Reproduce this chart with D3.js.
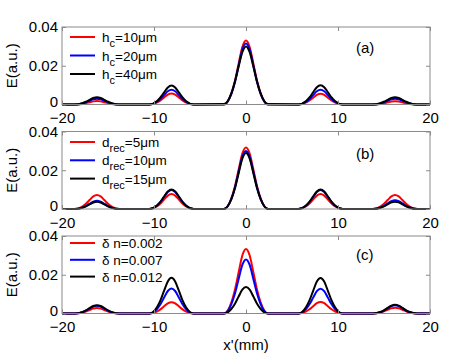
<!DOCTYPE html>
<html>
<head>
<meta charset="utf-8">
<script src="https://cdn.jsdelivr.net/npm/d3@7"></script>
<style>
  body { margin: 0; background: #fff; }
  svg { display: block; font-family: "Liberation Sans", Arial, sans-serif; }
</style>
</head>
<body>
<div id="chart"></div>
<script>
// shared sample positions x' (mm), dense around each fringe
const xValues = [
  -20,
  -18.6, -17.8, -17.4, -17.0, -16.6, -16.2, -15.8, -15.4, -15.0, -14.6, -13.8,
  -10.5, -9.7, -9.3, -8.9, -8.5, -8.1, -7.7, -7.3, -6.9, -6.5, -5.7,
  -2.4, -1.6, -1.2, -0.8, -0.4, 0, 0.4, 0.8, 1.2, 1.6, 2.4,
  5.7, 6.5, 6.9, 7.3, 7.7, 8.1, 8.5, 8.9, 9.3, 9.7, 10.5,
  13.8, 14.6, 15.0, 15.4, 15.8, 16.2, 16.6, 17.0, 17.4, 17.8, 18.6,
  20
];

// E values in units of 1e-3 a.u.
// panel (a): h_c
const hc10 = [0,
  0, .31, .67, 1.15, 1.62, 1.8, 1.62, 1.15, .67, .31, 0,
  0, .97, 2.11, 3.65, 5.13, 5.7, 5.13, 3.65, 2.11, .97, 0,
  0, 5.6, 12.2, 21.1, 29.7, 33, 29.7, 21.1, 12.2, 5.6, 0,
  0, .94, 2.04, 3.52, 4.95, 5.5, 4.95, 3.52, 2.04, .94, 0,
  0, .29, .63, 1.09, 1.53, 1.7, 1.53, 1.09, .63, .29, 0,
  0];
const hc20 = [0,
  0, .51, 1.11, 1.92, 2.7, 3.0, 2.7, 1.92, 1.11, .51, 0,
  0, 1.29, 2.81, 4.86, 6.84, 7.6, 6.84, 4.86, 2.81, 1.29, 0,
  0, 5.36, 11.66, 20.16, 28.35, 31.5, 28.35, 20.16, 11.66, 5.36, 0,
  0, 1.29, 2.81, 4.86, 6.84, 7.6, 6.84, 4.86, 2.81, 1.29, 0,
  0, .51, 1.11, 1.92, 2.7, 3.0, 2.7, 1.92, 1.11, .51, 0,
  0];
const hc40 = [0,
  0, .65, 1.41, 2.43, 3.42, 3.8, 3.42, 2.43, 1.41, .65, 0,
  0, 1.67, 3.63, 6.27, 8.82, 9.8, 8.82, 6.27, 3.63, 1.67, 0,
  .2, 5.6, 11.7, 19.6, 27, 30, 27, 19.6, 11.7, 5.6, .2,
  0, 1.68, 3.66, 6.34, 8.91, 9.9, 8.91, 6.34, 3.66, 1.68, 0,
  0, .65, 1.41, 2.43, 3.42, 3.8, 3.42, 2.43, 1.41, .65, 0,
  0];

// panel (b): d_rec
const drec5 = [0,
  0, 1.22, 2.66, 4.61, 6.48, 7.2, 6.48, 4.61, 2.66, 1.22, 0,
  0, 1.31, 2.85, 4.93, 6.93, 7.7, 6.93, 4.93, 2.85, 1.31, 0,
  0, 5.41, 11.77, 20.35, 28.62, 31.8, 28.62, 20.35, 11.77, 5.41, 0,
  0, 1.31, 2.85, 4.93, 6.93, 7.7, 6.93, 4.93, 2.85, 1.31, 0,
  0, 1.22, 2.66, 4.61, 6.48, 7.2, 6.48, 4.61, 2.66, 1.22, 0,
  0];
const drec10 = [0,
  0, .71, 1.55, 2.69, 3.78, 4.2, 3.78, 2.69, 1.55, .71, 0,
  0, 1.67, 3.63, 6.27, 8.82, 9.8, 8.82, 6.27, 3.63, 1.67, 0,
  0, 5.1, 11.1, 19.2, 27, 30, 27, 19.2, 11.1, 5.1, 0,
  0, 1.67, 3.63, 6.27, 8.82, 9.8, 8.82, 6.27, 3.63, 1.67, 0,
  0, .77, 1.67, 2.88, 4.05, 4.5, 4.05, 2.88, 1.67, .77, 0,
  0];
const drec15 = [0,
  0, .63, 1.37, 2.37, 3.33, 3.7, 3.33, 2.37, 1.37, .63, 0,
  0, 1.72, 3.74, 6.46, 9.09, 10.1, 9.09, 6.46, 3.74, 1.72, 0,
  0, 4.91, 10.69, 18.5, 26.01, 28.9, 26.01, 18.5, 10.69, 4.91, 0,
  0, 1.72, 3.74, 6.46, 9.09, 10.1, 9.09, 6.46, 3.74, 1.72, 0,
  0, .65, 1.41, 2.43, 3.42, 3.8, 3.42, 2.43, 1.41, .65, 0,
  0];

// panel (c): delta n
const dn002 = [0,
  0, .48, 1.04, 1.79, 2.52, 2.8, 2.52, 1.79, 1.04, .48, 0,
  0, .99, 2.15, 3.71, 5.22, 5.8, 5.22, 3.71, 2.15, .99, 0,
  0, 5.66, 12.32, 21.31, 29.97, 33.3, 29.97, 21.31, 12.32, 5.66, 0,
  0, 1.0, 2.18, 3.78, 5.31, 5.9, 5.31, 3.78, 2.18, 1.0, 0,
  0, .51, 1.11, 1.92, 2.7, 3.0, 2.7, 1.92, 1.11, .51, 0,
  0];
const dn007 = [0,
  0, .68, 1.48, 2.56, 3.6, 4.0, 3.6, 2.56, 1.48, .68, 0,
  0, 2.19, 4.77, 8.26, 11.61, 12.9, 11.61, 8.26, 4.77, 2.19, 0,
  0, 4.74, 10.32, 17.86, 25.11, 27.9, 25.11, 17.86, 10.32, 4.74, 0,
  0, 2.18, 4.74, 8.19, 11.52, 12.8, 11.52, 8.19, 4.74, 2.18, 0,
  0, .71, 1.55, 2.69, 3.78, 4.2, 3.78, 2.69, 1.55, .71, 0,
  0];
const dn012 = [0,
  0, .73, 1.59, 2.75, 3.87, 4.3, 3.87, 2.75, 1.59, .73, 0,
  0, 3.13, 6.81, 11.78, 16.56, 18.4, 16.56, 11.78, 6.81, 3.13, 0,
  0, 2.33, 5.07, 8.77, 12.33, 13.7, 12.33, 8.77, 5.07, 2.33, 0,
  0, 3.11, 6.77, 11.71, 16.47, 18.3, 16.47, 11.71, 6.77, 3.11, 0,
  0, .77, 1.67, 2.88, 4.05, 4.5, 4.05, 2.88, 1.67, .77, 0,
  0];

const xTicks = [-20, -10, 0, 10, 20];
const yTicks = [0, 0.02, 0.04];
const yTickLabels = ["0", "0.02", "0.04"];
const seriesColors = ["#ff0000", "#0000ff", "#000000"];

// legend labels: [main, subscript, rest]
const panels = [
  { tag: "(a)", series: [hc10, hc20, hc40],
    labels: [["h", "c", "=10\u03bcm"], ["h", "c", "=20\u03bcm"], ["h", "c", "=40\u03bcm"]],
    legendTop: 10, legendStep: 18.5, tagY: 26 },
  { tag: "(b)", series: [drec5, drec10, drec15],
    labels: [["d", "rec", "=5\u03bcm"], ["d", "rec", "=10\u03bcm"], ["d", "rec", "=15\u03bcm"]],
    legendTop: 10.5, legendStep: 18.3, tagY: 27 },
  { tag: "(c)", series: [dn002, dn007, dn012],
    labels: [["\u03b4 n=0.002", "", ""], ["\u03b4 n=0.007", "", ""], ["\u03b4 n=0.012", "", ""]],
    legendTop: 7, legendStep: 16.8, tagY: 24 }
];

const width = 474, height = 353;
const left = 62, right = 430;
const panelTop0 = 27, panelGap = 104.5, panelH = 77.5;

const svg = d3.select("#chart").append("svg")
  .attr("width", width).attr("height", height);

const x = d3.scaleLinear().domain([-20, 20]).range([left, right]);

panels.forEach((p, i) => {
  const top = panelTop0 + i * panelGap;
  const bottom = top + panelH;
  const y = d3.scaleLinear().domain([0, 0.04]).range([bottom, top]);
  const g = svg.append("g");

  // curves
  const line = d3.line()
    .curve(d3.curveMonotoneX)
    .x((d, k) => x(xValues[k]))
    .y((d) => y(d * 1e-3));

  p.series.forEach((s, k) => {
    g.append("path")
      .datum(s)
      .attr("fill", "none")
      .attr("stroke", seriesColors[k])
      .attr("stroke-width", 2)
      .attr("stroke-linejoin", "round")
      .attr("d", line);
  });

  // box with inward ticks on all sides
  g.append("rect")
    .attr("x", left).attr("y", top)
    .attr("width", right - left).attr("height", panelH)
    .attr("fill", "none").attr("stroke", "#8a8a8a").attr("stroke-width", 1);

  const axB = d3.axisBottom(x).tickValues(xTicks).tickSize(-4).tickPadding(8).tickFormat(d3.format("d"));
  const axT = d3.axisTop(x).tickValues(xTicks).tickSize(-4).tickFormat("");
  const axL = d3.axisLeft(y).tickValues(yTicks).tickSize(-4).tickPadding(4)
    .tickFormat((d, k) => yTickLabels[k]);
  const axR = d3.axisRight(y).tickValues(yTicks).tickSize(-4).tickFormat("");

  [[axB, `translate(0,${bottom})`], [axT, `translate(0,${top})`],
   [axL, `translate(${left},0)`], [axR, `translate(${right},0)`]].forEach(([ax, tr]) => {
    const a = g.append("g").attr("transform", tr).call(ax);
    a.select(".domain").remove();
    a.selectAll(".tick line").attr("stroke", "#8a8a8a");
    a.selectAll(".tick text").attr("fill", "#000").style("font-size", "15px")
      .style("font-family", "'Liberation Sans', Arial, sans-serif");
    if (ax === axL) {
      // lift the "0" label a little so it clears the x tick labels below
      a.selectAll(".tick text").filter((d) => d === 0).attr("dy", "0.1em");
    }
  });

  // legend
  p.labels.forEach((lab, k) => {
    const ly = top + p.legendTop + k * p.legendStep;
    g.append("line")
      .attr("x1", 70).attr("x2", 95).attr("y1", ly).attr("y2", ly)
      .attr("stroke", seriesColors[k]).attr("stroke-width", 2);
    const t = g.append("text").attr("x", 102).attr("y", ly + 5)
      .style("font-size", "13.5px").attr("fill", "#000");
    t.append("tspan").text(lab[0]);
    if (lab[1]) {
      t.append("tspan").attr("dy", 5).style("font-size", "11px").text(lab[1]);
      t.append("tspan").attr("dy", -5).text(lab[2]);
    }
  });

  // panel tag
  g.append("text").attr("x", 356).attr("y", top + p.tagY)
    .style("font-size", "15px").attr("fill", "#000").text(p.tag);

  // y label
  g.append("text")
    .attr("transform", `translate(17,${(top + bottom) / 2}) rotate(-90)`)
    .attr("text-anchor", "middle")
    .style("font-size", "15px").attr("fill", "#000")
    .text("E(a.u.)");
});

svg.append("text")
  .attr("x", 246).attr("y", 350)
  .attr("text-anchor", "middle")
  .style("font-size", "15px").attr("fill", "#000")
  .text("x'(mm)");
</script>
</body>
</html>
